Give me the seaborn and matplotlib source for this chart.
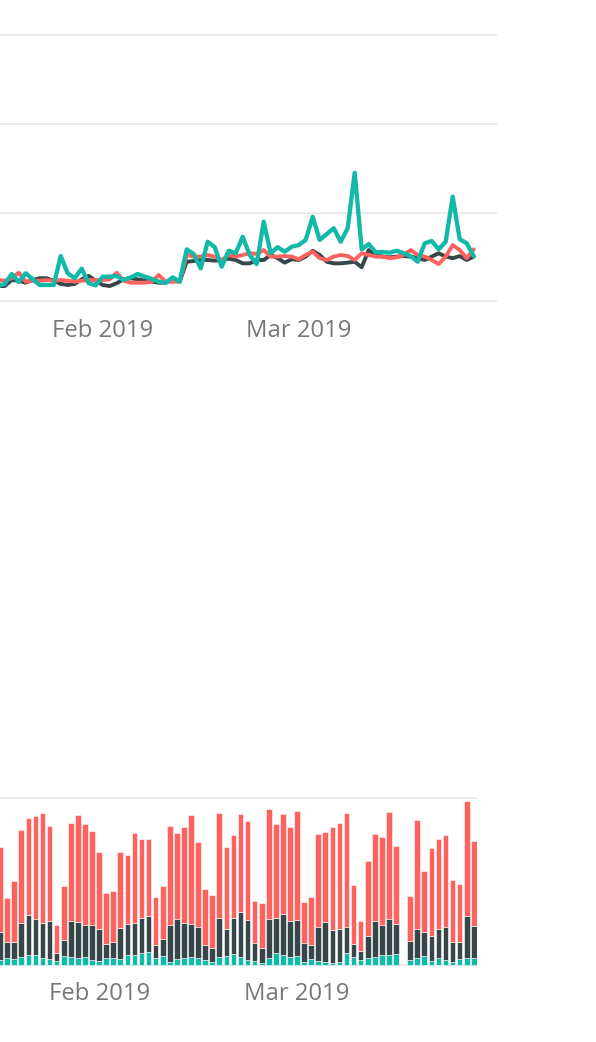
import matplotlib
matplotlib.use("Agg")
import matplotlib.pyplot as plt
import matplotlib.dates as mdates
import numpy as np
import pandas as pd
import seaborn as sns

# ---- data ----
line_dates = pd.date_range("2019-01-17", periods=69, freq="D")
teal_line = [8.7, 9.9, 15.5, 11.0, 15.9, 12.5, 9.3, 9.3, 9.3, 25.6, 15.9, 13.1, 18.5, 10.3, 9.1,
             14.0, 14.0, 14.4, 12.1, 13.6, 15.5, 14.0, 12.7, 11.2, 10.6, 13.6, 11.2, 29.4, 26.8,
             18.7, 33.7, 30.6, 19.6, 28.6, 27.2, 36.5, 26.2, 21.1, 45.0, 27.2, 30.6, 28.1, 30.9,
             31.8, 34.7, 47.8, 34.7, 38.0, 41.3, 33.7, 41.3, 72.6, 29.4, 32.4, 27.7, 27.9, 27.5,
             28.6, 27.2, 25.6, 22.4, 32.8, 34.1, 29.4, 33.7, 59.1, 35.1, 32.8, 25.6]
red_line = [12.1, 11.7, 13.1, 16.2, 11.2, 11.7, 11.7, 12.1, 11.7, 12.1, 11.7, 11.2, 11.7, 12.1,
            12.1, 12.1, 12.5, 16.2, 11.7, 10.6, 10.6, 10.6, 11.2, 14.9, 11.2, 11.2, 11.2, 26.2,
            25.3, 25.3, 26.2, 25.3, 23.4, 26.2, 25.3, 26.2, 27.2, 26.8, 29.0, 25.3, 25.3, 25.6,
            25.3, 23.8, 26.2, 28.1, 24.4, 23.4, 25.3, 26.2, 25.6, 23.4, 27.2, 26.2, 25.3, 25.3,
            24.4, 24.9, 26.2, 29.0, 26.2, 25.3, 23.4, 21.1, 25.3, 31.8, 29.0, 24.4, 29.4]
dark_line = [8.7, 8.7, 12.1, 11.7, 10.6, 12.1, 13.1, 13.1, 11.7, 9.9, 9.3, 9.9, 12.5, 14.4, 11.7,
             9.3, 8.7, 10.3, 12.5, 13.1, 12.5, 11.7, 11.2, 10.6, 10.6, 12.5, 11.2, 22.4, 22.8,
             23.4, 23.4, 23.0, 23.4, 24.1, 23.4, 21.5, 21.5, 23.4, 23.4, 26.2, 24.4, 21.9, 23.8,
             23.4, 25.3, 28.6, 26.2, 22.4, 21.5, 21.5, 21.9, 22.4, 19.3, 29.0, 26.2, 25.3, 24.9,
             25.3, 25.6, 25.3, 24.4, 23.4, 25.3, 27.2, 25.3, 24.4, 25.6, 23.4, 25.3]

bar_dates = pd.date_range("2019-01-18", periods=68, freq="D")
teal_bar = [15, 22, 18, 25, 29, 30, 21, 17, 12, 27, 24, 21, 25, 16, 13, 22, 21, 18, 30, 31, 37,
            38, 21, 27, 9, 18, 21, 25, 21, 16, 10, 25, 27, 33, 25, 15, 13, 6, 20, 36, 31, 24, 28,
            9, 17, 11, 8, 6, 10, 35, 24, 15, 22, 24, 29, 30, 33, np.nan, 14, 20, 28, 11, 21, 14,
            10, 17, 20, 21]
dark_bar = [85, 46, 51, 102, 121, 107, 105, 116, 24, 48, 108, 107, 95, 104, 94, 42, 49, 92, 93,
            95, 104, 109, 39, 51, 111, 121, 105, 99, 93, 43, 42, 117, 82, 109, 134, 120, 53, 46,
            119, 106, 122, 109, 108, 58, 43, 102, 122, 100, 99, 80, 40, 28, 66, 109, 91, 109, 91,
            np.nan, 59, 89, 72, 75, 86, 101, 58, 52, 128, 97]
red_bar = [255, 132, 184, 277, 291, 311, 329, 283, 83, 161, 294, 321, 302, 281, 233, 153, 152,
           229, 206, 269, 236, 230, 143, 158, 298, 257, 287, 327, 255, 168, 157, 313, 245, 248,
           294, 297, 125, 133, 330, 280, 299, 280, 326, 122, 143, 280, 269, 309, 316, 340, 175,
           88, 225, 260, 263, 320, 234, np.nan, 134, 327, 182, 264, 270, 276, 187, 173, 345, 255]

tick_dates = pd.to_datetime(["2019-02-01", "2019-03-01"])
tick_labels = ["Feb 2019", "Mar 2019"]

TEAL = "#12B8A8"
DARK = "#374649"
RED = "#FD625E"
GRID = "#EAEAEA"
LABEL = "#777777"

sns.set_theme(style="white")
plt.rcParams["font.family"] = ["Open Sans", "DejaVu Sans"]

W, H = 596, 1042
fig = plt.figure(figsize=(W / 100, H / 100), dpi=100)


def px_axes(left, right, top, bottom):
    return fig.add_axes([left / W, 1 - bottom / H, (right - left) / W, (bottom - top) / H])


def style_axis(ax, pad):
    for s in ax.spines.values():
        s.set_visible(False)
    ax.set_yticklabels([])
    ax.tick_params(axis="y", length=0)
    ax.set_xticks(mdates.date2num(tick_dates))
    ax.set_xticklabels(tick_labels, color=LABEL, fontsize=17.2)
    ax.tick_params(axis="x", length=0, pad=pad)
    ax.grid(False)


d0 = mdates.date2num(pd.Timestamp("2019-01-18"))

# ---- top: line chart ----
ax1 = px_axes(0, 497, 30.1, 306.8)
for y in (0, 50, 100, 150):
    ax1.axhline(y, color=GRID, linewidth=1.4, zorder=0)
for vals, col, lw in ((dark_line, DARK, 2.8), (red_line, RED, 2.8), (teal_line, TEAL, 3.1)):
    sns.lineplot(x=mdates.date2num(line_dates), y=vals, color=col, linewidth=lw, ax=ax1,
                 zorder=3)
ax1.set_xlim(d0 - 4.7 / 7.0, d0 + (497 - 4.7) / 7.0)
ax1.set_ylim(-3, 153)
style_axis(ax1, pad=9)

# ---- bottom: stacked daily bars ----
ax2 = px_axes(0, 477, 793.3, 967)
for y in (0, 500):
    ax2.axhline(y, color=GRID, linewidth=1.4, zorder=0)
x = mdates.date2num(bar_dates)
t = np.array(teal_bar, dtype=float)
dk = np.array(dark_bar, dtype=float)
r = np.array(red_bar, dtype=float)
ok = ~np.isnan(t)
bar_kw = dict(width=0.8, edgecolor="white", linewidth=0.4, zorder=2)
ax2.bar(x[ok], t[ok], color=TEAL, **bar_kw)
ax2.bar(x[ok], dk[ok], bottom=t[ok], color=DARK, **bar_kw)
ax2.bar(x[ok], r[ok], bottom=t[ok] + dk[ok], color=RED, **bar_kw)
ax2.set_xlim(d0 - 0.014, d0 + 476.9 / 7.07)
ax2.set_ylim(-6, 515)
style_axis(ax2, pad=10.5)

fig.savefig("out.png", dpi=100)
